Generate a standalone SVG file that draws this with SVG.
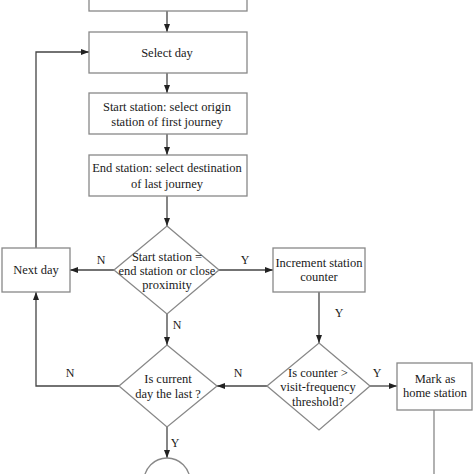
<svg xmlns="http://www.w3.org/2000/svg" width="474" height="474" viewBox="0 0 474 474">
<defs>
<marker id="ah" markerWidth="8" markerHeight="6" refX="8" refY="3" orient="auto" markerUnits="userSpaceOnUse">
<path d="M0,0 L8,3 L0,6 Z" fill="#222"/>
</marker>
<style>
.box{fill:#fff;stroke:#888;stroke-width:1.3}
.ln{fill:none;stroke:#444;stroke-width:1.3}
.lg{fill:none;stroke:#888;stroke-width:1.3}
.t{font-size:12.5px;fill:#1a1a1a;text-anchor:middle}
.lb{font-size:12px;fill:#1a1a1a;text-anchor:middle}
</style>
</defs>
<rect width="474" height="474" fill="#fff"/>
<g id="connectors" font-family="'Liberation Serif', 'DejaVu Serif', serif">
<path class="ln" d="M167,11 V32" marker-end="url(#ah)"/>
<path class="ln" d="M167,73 V93" marker-end="url(#ah)"/>
<path class="ln" d="M167,134 V155" marker-end="url(#ah)"/>
<path class="ln" d="M167,196 V226" marker-end="url(#ah)"/>
<path class="ln" d="M114,270 H70" marker-end="url(#ah)"/>
<path class="ln" d="M219,270 H273" marker-end="url(#ah)"/>
<path class="ln" d="M36,248 V52 H89" marker-end="url(#ah)"/>
<path class="ln" d="M167,314 V345" marker-end="url(#ah)"/>
<path class="ln" d="M319,292 V343" marker-end="url(#ah)"/>
<path class="ln" d="M267,386 H217" marker-end="url(#ah)"/>
<path class="ln" d="M370,386 H397" marker-end="url(#ah)"/>
<path class="ln" d="M119,386 H36 V292" marker-end="url(#ah)"/>
<path class="ln" d="M167,427 V458" marker-end="url(#ah)"/>
<path class="lg" d="M434,410 V474"/>
<text class="lb" x="101" y="264">N</text>
<text class="lb" x="245" y="264">Y</text>
<text class="lb" x="177" y="329">N</text>
<text class="lb" x="339" y="317">Y</text>
<text class="lb" x="70" y="377">N</text>
<text class="lb" x="238" y="377">N</text>
<text class="lb" x="377" y="377">Y</text>
<text class="lb" x="175" y="447">Y</text>
</g>
<g font-family="'Liberation Serif', 'DejaVu Serif', serif">
<g id="top-box"><rect class="box" x="89" y="-5" width="158" height="16"/></g>
<g id="select-day"><rect class="box" x="89" y="32" width="158" height="41"/><text class="t" x="167" y="57">Select day</text></g>
<g id="start-station"><rect class="box" x="89" y="93" width="158" height="41"/><text class="t" x="167" y="111">Start station: select origin</text><text class="t" x="167" y="126">station of first journey</text></g>
<g id="end-station"><rect class="box" x="89" y="155" width="158" height="41"/><text class="t" x="167" y="172">End station: select destination</text><text class="t" x="167" y="188">of last journey</text></g>
<g id="decision-same"><polygon class="box" points="167,226 219,270 167,314 114,270"/><text class="t" x="167" y="261">Start station =</text><text class="t" x="167" y="275">end station or close</text><text class="t" x="167" y="289">proximity</text></g>
<g id="next-day"><rect class="box" x="2" y="248" width="68" height="44"/><text class="t" x="36" y="274">Next day</text></g>
<g id="increment"><rect class="box" x="273" y="248" width="92" height="44"/><text class="t" x="319" y="267">Increment station</text><text class="t" x="319" y="281">counter</text></g>
<g id="decision-threshold"><polygon class="box" points="319,343 370,386 319,430 267,386"/><text class="t" x="318" y="377">Is counter &gt;</text><text class="t" x="318" y="391">visit-frequency</text><text class="t" x="318" y="406">threshold?</text></g>
<g id="decision-last"><polygon class="box" points="167,345 217,386 167,427 119,386"/><text class="t" x="168" y="383">Is current</text><text class="t" x="168" y="398">day the last ?</text></g>
<g id="mark-home"><rect class="box" x="397" y="363" width="75" height="47"/><text class="t" x="435" y="383">Mark as</text><text class="t" x="435" y="397">home station</text></g>
<g id="end"><circle class="box" cx="167" cy="481" r="23"/></g>
</g>
</svg>
